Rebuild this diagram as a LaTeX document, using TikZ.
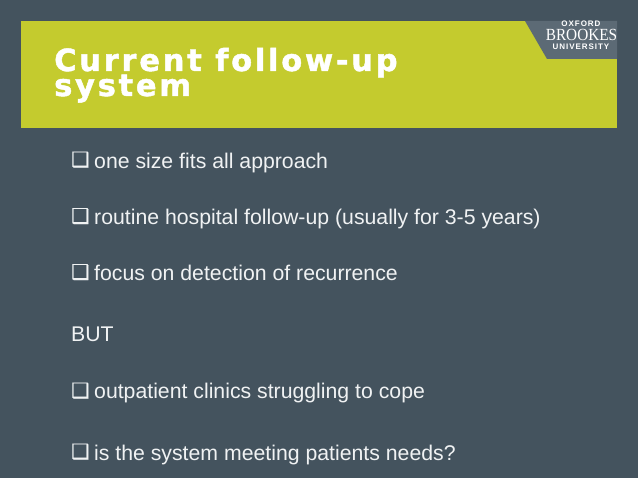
\documentclass[tikz,border=0pt]{standalone}
\usepackage{fontspec}
\setmainfont{Liberation Sans}
\newfontfamily\titlefont[LetterSpace=9,FakeBold=1.5]{DejaVu Sans Bold}
\newfontfamily\boxfont[FakeBold=0.3]{DejaVu Sans}
\newfontfamily\logoserif[FakeStretch=0.9]{Liberation Serif}
\newfontfamily\logosans[LetterSpace=12]{Liberation Sans Bold}
\usetikzlibrary{positioning}
\definecolor{slate}{HTML}{44535E}
\definecolor{lime}{HTML}{C4CB2E}
\definecolor{logogrey}{HTML}{5C6A75}
\definecolor{bodywhite}{HTML}{F0F2F3}

\begin{document}
\begin{tikzpicture}[x=1pt,y=-1pt,
		item/.style={anchor=base west, inner sep=0pt, text=bodywhite, font=\fontsize{21.25}{24}\selectfont},
		tick/.style={anchor=base west, inner sep=0pt, text=bodywhite, font=\boxfont\fontsize{20.5}{24}\selectfont},
		heading/.style={anchor=base west, inner sep=0pt, text=white, font=\titlefont\fontsize{30.5}{30}\selectfont},
		logotext/.style={anchor=base, inner sep=0pt, text=white}]
		\useasboundingbox (0,0) rectangle (638,478);
		\fill[slate] (0,0) rectangle (638,478);
		\fill[lime] (21,21) rectangle (617,128);
		\fill[logogrey] (525,21) -- (617,21) -- (617,59) -- (547,59) -- cycle;

		\node[heading] (head1) at (54,71) {Current follow-up};
		\node[heading] (head2) at (54,96) {system};

		\node[logotext, font=\logosans\fontsize{8}{9}\selectfont] (oxford) at (581,27) {OXFORD};
		\node[logotext, font=\logoserif\fontsize{17}{18}\selectfont] (brookes) at (581.5,41) {BROOKES};
		\node[logotext, font=\logosans\fontsize{8}{9}\selectfont] (univ) at (581,49.5) {UNIVERSITY};

		\node[tick] (box1) at (71,166.5) {❑};
		\node[tick] (box2) at (71,223) {❑};
		\node[tick] (box3) at (71,279) {❑};
		\node[tick] (box4) at (71,397.5) {❑};
		\node[tick] (box5) at (71,458.5) {❑};

		\node[item] (line1) at (94,168.5) {one size fits all approach};
		\node[item] (line2) at (94,225) {routine hospital follow-up (usually for 3-5 years)};
		\node[item] (line3) at (94,281) {focus on detection of recurrence};
		\node[item] (but) at (71,342) {BUT};
		\node[item] (line4) at (94,399) {outpatient clinics struggling to cope};
		\node[item] (line5) at (94,460.5) {is the system meeting patients needs?};
	\end{tikzpicture}
\end{document}
